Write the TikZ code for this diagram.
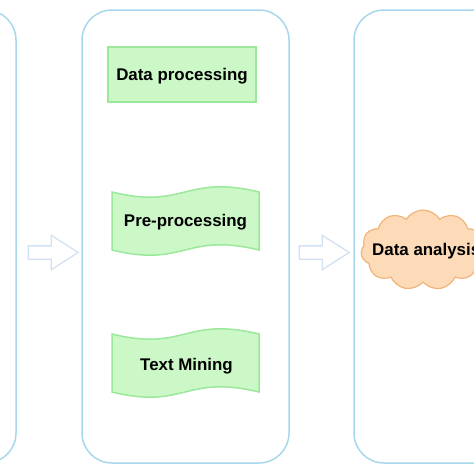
\documentclass[tikz,border=0pt]{standalone}
\usepackage{fontspec}
\setmainfont{Liberation Sans}
\usetikzlibrary{shapes.symbols,shapes.arrows}
\definecolor{panelc}{HTML}{A8D8EC}
\definecolor{greenfill}{HTML}{CCF8C8}
\definecolor{greenline}{HTML}{9BE89B}
\definecolor{arrowc}{HTML}{D3E2F2}
\definecolor{cloudfill}{HTML}{FDDAB8}
\definecolor{cloudline}{HTML}{F2B478}
\begin{document}
\begin{tikzpicture}[x=1pt,y=-1pt,
  panel/.style={draw=panelc,line width=1.5pt,rounded corners=30pt,minimum width=207pt,minimum height=453pt,inner sep=0pt},
  lbl/.style={font=\fontsize{16.9}{18}\selectfont\bfseries,inner sep=0pt,text depth=0pt},
  greenbox/.style={draw=greenline,fill=greenfill,line width=1.5pt},
  blockarrow/.style={single arrow,draw=arrowc,line width=1.3pt,fill=white,inner xsep=0pt,inner ysep=6pt,
    single arrow head extend=10.5pt,single arrow tip angle=65,minimum height=50pt,text width=0pt,text height=0pt,text depth=0pt},
  cloudshape/.style={cloud,cloud puffs=11,cloud puff arc=115,draw=cloudline,fill=cloudfill,line width=1.2pt,
    minimum width=124pt,minimum height=80pt,inner sep=0pt}]
\useasboundingbox (0,0) rectangle (474,474);
\clip (0,0) rectangle (474,474);
\fill[white] (0,0) rectangle (474,474);
% panels
\node[panel] (p1) at (-87.5,236.5) {};
\node[panel] (p2) at (185.5,236.5) {};
\node[panel] (p3) at (457.5,236.5) {};
% block arrows
\node[blockarrow] (a1) at (48,252.5) {};
\node[blockarrow] (a2) at (319,252.5) {};
% data processing
\node[greenbox,lbl,minimum width=148pt,minimum height=55pt] (dp) at (182,74.5) {Data processing};
% pre-processing tape
\filldraw[greenbox] (112,192) .. controls (185,210) and (185,174) .. (259,192) -- (259,250)
  .. controls (185,232) and (185,268) .. (112,250) -- cycle;
\node[lbl,anchor=base] (pp) at (185.5,226) {Pre-processing};
% text mining tape
\filldraw[greenbox] (112,334) .. controls (185,352) and (185,316) .. (259,334) -- (259,392)
  .. controls (185,374) and (185,410) .. (112,392) -- cycle;
\node[lbl,anchor=base] (tm) at (186.5,370) {Text Mining};
% cloud
\node[cloudshape] (cl) at (423,250) {};
\node[lbl,anchor=base west] (da) at (372,255.5) {Data analysis};
\end{tikzpicture}
\end{document}
